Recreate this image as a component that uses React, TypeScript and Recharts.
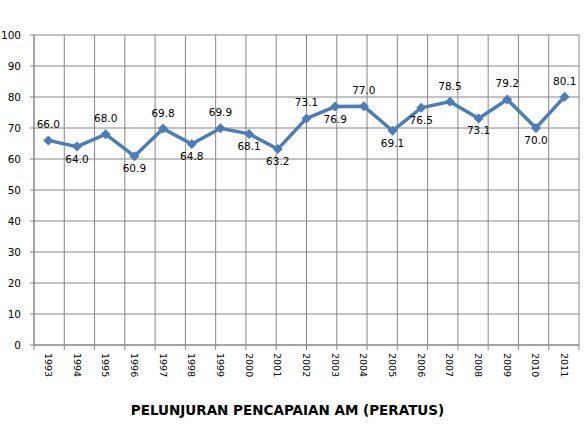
import { LineChart, Line, XAxis, YAxis, CartesianGrid, LabelList } from 'recharts'

// tahun & pencapaian (peratus)
const YEARS = [
  '1993', '1994', '1995', '1996', '1997', '1998', '1999', '2000', '2001', '2002',
  '2003', '2004', '2005', '2006', '2007', '2008', '2009', '2010', '2011',
]
const ACHIEVEMENT = [
  66.0, 64.0, 68.0, 60.9, 69.8, 64.8, 69.9, 68.1, 63.2, 73.1,
  76.9, 77.0, 69.1, 76.5, 78.5, 73.1, 79.2, 70.0, 80.1,
]
// where each value label sits relative to its point
const LABEL_SIDE = [
  'top', 'bottom', 'top', 'bottom', 'top', 'bottom', 'top', 'bottom', 'bottom', 'top',
  'bottom', 'top', 'bottom', 'bottom', 'top', 'bottom', 'top', 'bottom', 'top',
]
const Y_TICKS = [0, 10, 20, 30, 40, 50, 60, 70, 80, 90, 100]
// category boundaries, used for the vertical gridlines and tick marks
const BAND_EDGES = YEARS.map((_, i) => i).concat(YEARS.length)

const data = YEARS.map((year, i) => ({ year, value: ACHIEVEMENT[i] }))

const FONT = 'Verdana, "DejaVu Sans", sans-serif'
const BLUE = '#4A7EBB'
const GRID = '#878787'

function Diamond(props: any) {
  const { cx, cy, index } = props
  if (cx == null || cy == null) return null
  const r = 5
  return (
    <polygon
      key={index}
      points={`${cx},${cy - r} ${cx + r},${cy} ${cx},${cy + r} ${cx - r},${cy}`}
      fill={BLUE}
    />
  )
}

function ValueLabel(props: any) {
  const { x, y, value, index } = props
  const below = LABEL_SIDE[index] === 'bottom'
  return (
    <text
      x={x}
      y={below ? y + 16 : y - 12}
      textAnchor="middle"
      fontSize={10.5}
      fontFamily={FONT}
      fill="#000"
    >
      {Number(value).toFixed(1)}
    </text>
  )
}

function YearTick(props: any) {
  const { x, y, payload } = props
  return (
    <text
      x={x}
      y={y}
      transform={`rotate(90, ${x}, ${y})`}
      textAnchor="start"
      dominantBaseline="central"
      fontSize={9.5}
      fontFamily={FONT}
      fill="#000"
    >
      {payload.value}
    </text>
  )
}

export default function App() {
  return (
    <div style={{ position: 'absolute', left: 0, top: 0, width: 587, height: 442, background: '#fff' }}>
      <LineChart
        width={587}
        height={442}
        data={data}
        margin={{ top: 35, right: 8, left: 0, bottom: 61 }}
      >
        <CartesianGrid xAxisId="edges" stroke={GRID} strokeWidth={1} />
        <XAxis
          xAxisId="edges"
          type="number"
          domain={[0, YEARS.length]}
          ticks={BAND_EDGES}
          interval={0}
          allowDataOverflow
          height={6}
          tickSize={5}
          tickFormatter={() => ''}
          axisLine={{ stroke: GRID }}
          tickLine={{ stroke: GRID }}
        />
        <XAxis
          xAxisId="years"
          dataKey="year"
          scale="band"
          height={30}
          interval={0}
          axisLine={false}
          tickLine={false}
          tickSize={0}
          tickMargin={2}
          tick={<YearTick />}
        />
        <YAxis
          domain={[0, 100]}
          ticks={Y_TICKS}
          interval={0}
          width={34}
          tickSize={4}
          tickMargin={9}
          axisLine={{ stroke: GRID }}
          tickLine={{ stroke: GRID }}
          tick={{ fontSize: 10.5, fontFamily: FONT, fill: '#000' }}
        />
        <Line
          xAxisId="years"
          type="linear"
          dataKey="value"
          stroke={BLUE}
          strokeWidth={3.5}
          dot={<Diamond />}
          activeDot={false}
          isAnimationActive={false}
        >
          <LabelList dataKey="value" content={<ValueLabel />} />
        </Line>
      </LineChart>
      <div
        style={{
          position: 'absolute',
          left: 0,
          top: 402,
          width: 575,
          textAlign: 'center',
          fontFamily: FONT,
          fontWeight: 'bold',
          fontSize: 13.5,
          color: '#000',
        }}
      >
        PELUNJURAN PENCAPAIAN AM (PERATUS)
      </div>
    </div>
  )
}
